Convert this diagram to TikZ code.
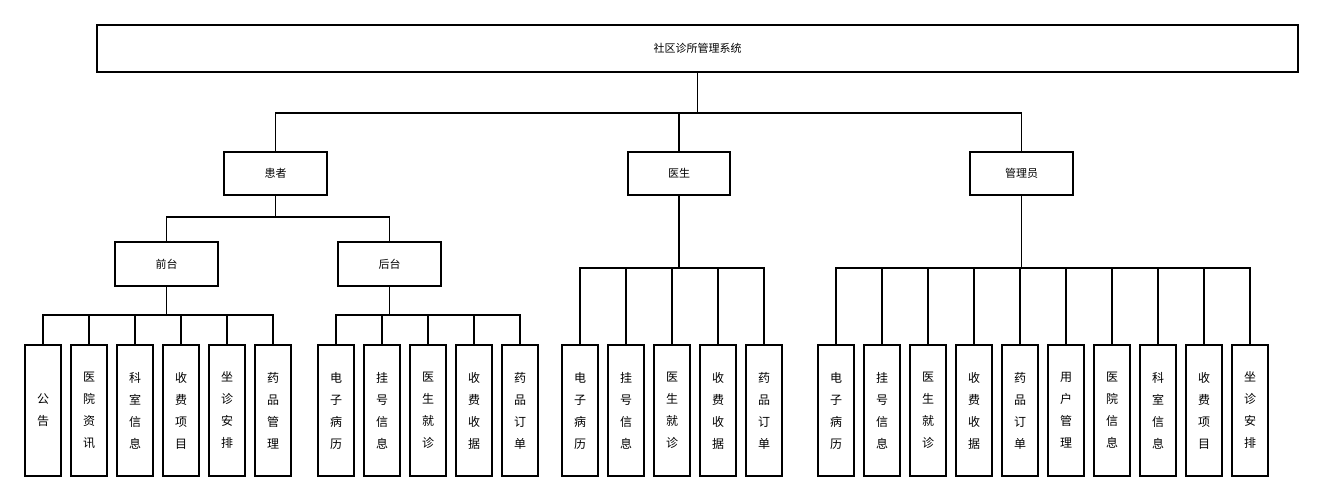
\documentclass[tikz,border=0pt]{standalone}
\usepackage{fontspec}
\setmainfont{Noto Sans CJK SC}
\begin{document}
\begin{tikzpicture}[x=1pt,y=-1pt,
  box/.style={draw,line width=1.5pt,inner sep=0pt,font=\fontsize{11}{13}\selectfont},
  leaf/.style={box,minimum width=36pt,minimum height=131pt,align=center,font=\fontsize{12}{22}\selectfont},
  ln/.style={line width=1.5pt}]
\useasboundingbox (0,0) rectangle (1322,502);
\node[box,minimum width=1201pt,minimum height=47pt] (top) at (697.5,48.5) {社区诊所管理系统};
\node[box,minimum width=103pt,minimum height=43pt] (hz) at (275.5,173.5) {患者};
\node[box,minimum width=102pt,minimum height=43pt] (ys) at (679,173.5) {医生};
\node[box,minimum width=103pt,minimum height=43pt] (gl) at (1021.5,173.5) {管理员};
\node[box,minimum width=103pt,minimum height=44pt] (qt) at (166.5,264) {前台};
\node[box,minimum width=103pt,minimum height=44pt] (ht) at (389.5,264) {后台};
\foreach \c in {hz,ys,gl}{\draw[ln] (top.south) -- (top.south|-0,113) -| (\c.north);}
\foreach \c in {qt,ht}{\draw[ln] (hz.south) -- (hz.south|-0,217) -| (\c.north);}
\foreach \n/\x/\t in {
 a1/43/公\\告, a2/89/医\\院\\资\\讯, a3/135/科\\室\\信\\息, a4/181/收\\费\\项\\目, a5/227/坐\\诊\\安\\排, a6/273/药\\品\\管\\理}
 {\node[leaf] (\n) at (\x,410.5) {\t}; \draw[ln] (qt.south) -- (qt.south|-0,315) -| (\n.north);}
\foreach \n/\x/\t in {
 b1/336/电\\子\\病\\历, b2/382/挂\\号\\信\\息, b3/428/医\\生\\就\\诊, b4/474/收\\费\\收\\据, b5/520/药\\品\\订\\单}
 {\node[leaf] (\n) at (\x,410.5) {\t}; \draw[ln] (ht.south) -- (ht.south|-0,315) -| (\n.north);}
\foreach \n/\x/\t in {
 c1/580/电\\子\\病\\历, c2/626/挂\\号\\信\\息, c3/672/医\\生\\就\\诊, c4/718/收\\费\\收\\据, c5/764/药\\品\\订\\单}
 {\node[leaf] (\n) at (\x,410.5) {\t}; \draw[ln] (ys.south) -- (ys.south|-0,268) -| (\n.north);}
\foreach \n/\x/\t in {
 d1/836/电\\子\\病\\历, d2/882/挂\\号\\信\\息, d3/928/医\\生\\就\\诊, d4/974/收\\费\\收\\据, d5/1020/药\\品\\订\\单,
 d6/1066/用\\户\\管\\理, d7/1112/医\\院\\信\\息, d8/1158/科\\室\\信\\息, d9/1204/收\\费\\项\\目, d10/1250/坐\\诊\\安\\排}
 {\node[leaf] (\n) at (\x,410.5) {\t}; \draw[ln] (gl.south) -- (gl.south|-0,268) -| (\n.north);}
\end{tikzpicture}
\end{document}
